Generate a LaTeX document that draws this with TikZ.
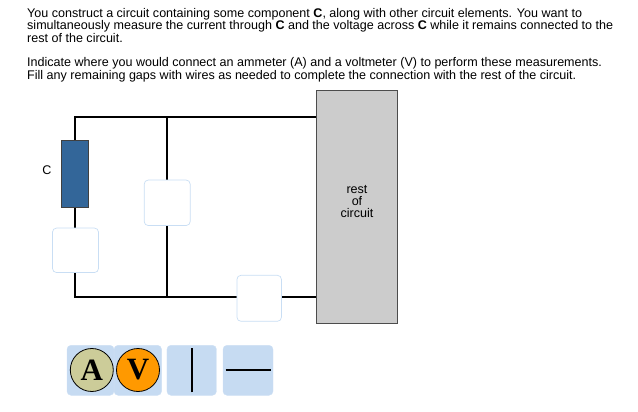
\documentclass[tikz,border=0pt]{standalone}
\usepackage{fontspec}
\setmainfont{Liberation Sans}
\definecolor{compblue}{HTML}{336699}
\definecolor{restgray}{HTML}{CCCCCC}
\definecolor{tileblue}{HTML}{C6DBF2}
\definecolor{gapblue}{HTML}{C9DEF4}
\definecolor{ammeter}{HTML}{CCCC99}
\definecolor{voltmeter}{HTML}{FF9900}
\newfontfamily\meterfont{Liberation Serif}
\tikzset{
    wire/.style={line width=1.7pt,black},
    prose/.style={anchor=base west,inner sep=0pt,font=\fontsize{12.55}{12}\selectfont},
    gapbox/.style={draw=gapblue,fill=white,line width=0.7pt,rounded corners=4pt,inner sep=0pt},
    tilebox/.style={draw=tileblue!85!white,fill=tileblue,rounded corners=4pt,inner sep=0pt},
    meter/.style={circle,draw=black,line width=0.8pt,inner sep=0pt,minimum size=43pt,font=\meterfont\fontsize{31}{31}\selectfont\bfseries},
}
\begin{document}
\begin{tikzpicture}[x=1pt,y=-1pt]
    \useasboundingbox (0,0) rectangle (638,412);

    %% question text
    \foreach \y/\ltext in {
        18/{You construct a circuit containing some component \textbf{C}, along with other circuit elements. You want to},
        30/{simultaneously measure the current through \textbf{C} and the voltage across \textbf{C} while it remains connected to the},
        43/{rest of the circuit.},
        67/{Indicate where you would connect an ammeter (A) and a voltmeter (V) to perform these measurements.},
        80/{Fill any remaining gaps with wires as needed to complete the connection with the rest of the circuit.}} {
            \node[prose] at (27,\y) {\ltext};
        }

    %% circuit
    \node[draw=black!70,fill=restgray,line width=1pt,minimum width=81pt,minimum height=233.5pt,inner sep=0pt] (rest) at (357.2,206.8) {};
    \node[align=center,inner sep=0pt,font=\fontsize{12.55}{12}\selectfont] (restlabel) at (357,201.5) {rest\\of\\circuit};

    \coordinate (topleft) at (75,116.7);
    \coordinate (topmid) at (166.7,116.7);
    \coordinate (botleft) at (75,296.7);
    \coordinate (botmid) at (166.7,296.7);

    \draw[wire] (botmid) -- (botleft) -- (topleft) -- (topmid) -- (rest.west |- topmid);
    \draw[wire] (topmid) -- (botmid) -- (rest.west |- botmid);

    \node[draw=black!75,fill=compblue,line width=1pt,minimum width=27pt,minimum height=67pt,inner sep=0pt] (comp) at (75,173.5) {};
    \node[inner sep=0pt,font=\fontsize{12.55}{12}\selectfont] (complabel) at (47,170.5) {C};

    \node[gapbox,minimum width=46pt,minimum height=44.5pt] (gapseries) at (75.5,250.3) {};
    \node[gapbox,minimum width=46pt,minimum height=45.5pt] (gapmid) at (167.2,202.8) {};
    \node[gapbox,minimum width=44.5pt,minimum height=46pt] (gapbot) at (259.2,298.3) {};

    %% palette
    \foreach \name/\x/\wdth in {tilea/90.5/47,tilev/137.8/47.5,tilevert/191.7/49.5,tilehoriz/248/50} {
            \node[tilebox,minimum width=\wdth pt,minimum height=50pt] (\name) at (\x,370.3) {};
        }
    \node[meter,fill=ammeter] (ammeter) at (91.8,370) {A};
    \node[meter,fill=voltmeter] (voltmeter) at (138,370) {V};
    \draw[wire] ([yshift=-22pt]tilevert.center) -- ([yshift=22pt]tilevert.center);
    \draw[wire] ([xshift=-22.5pt]tilehoriz.center) -- ([xshift=22.5pt]tilehoriz.center);
\end{tikzpicture}
\end{document}
